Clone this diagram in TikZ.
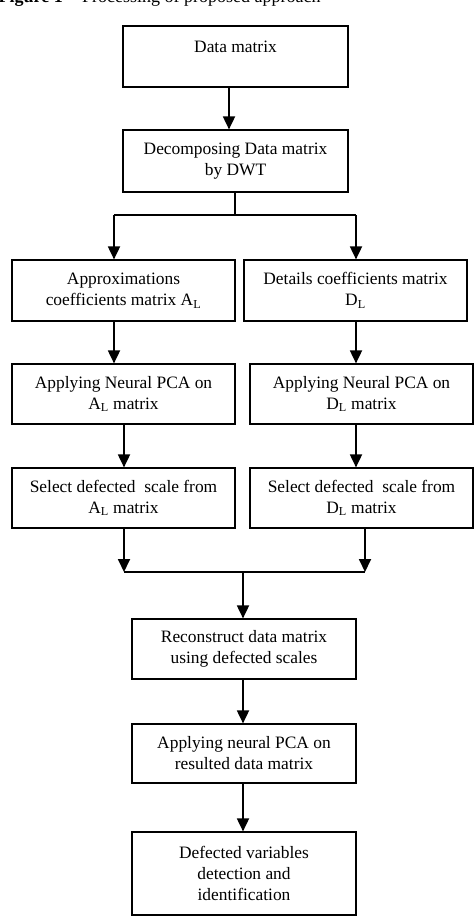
\documentclass[tikz,border=0pt]{standalone}
\usepackage{fontspec}
\setmainfont{Liberation Serif}
\usetikzlibrary{arrows.meta,calc}
\begin{document}
\begin{tikzpicture}[x=1pt,y=-1pt,
  box/.style={draw, line width=1.2pt, inner sep=0pt, align=center,
    font=\fontsize{17.4}{21}\selectfont},
  arr/.style={line width=1.8pt, -{Triangle[length=13pt,width=12pt]}},
  joinline/.style={line width=1.2pt},
  ttl/.style={inner sep=0pt, font=\fontsize{18}{21}\selectfont}]
\useasboundingbox (0,0) rectangle (474,916);
% title (cut off at the top)
\node[ttl, anchor=base east] (fig) at (63,2) {\textbf{Figure 1}};
\node[ttl, anchor=base west] (cap) at (82,2) {Processing of proposed approach};
% boxes
\node[draw, line width=1.2pt, inner sep=0pt, minimum width=225pt,
  text height=26pt, text depth=35pt, font=\fontsize{17.4}{21}\selectfont] (b1) at (235.5,56.5) {Data matrix};
\node[box, minimum width=225pt, minimum height=62pt] (b2) at (235.5,161) {Decomposing Data matrix\\by DWT};
\node[box, minimum width=223pt, minimum height=61pt] (b3l) at (123.5,290.5) {Approximations\\coefficients matrix A\textsubscript{L}};
\node[box, minimum width=223pt, minimum height=61pt] (b3r) at (355.5,290.5) {Details coefficients matrix\\D\textsubscript{L}};
\node[box, minimum width=223pt, minimum height=60pt] (b4l) at (123.5,394) {Applying Neural PCA on\\A\textsubscript{L} matrix};
\node[box, minimum width=223pt, minimum height=60pt] (b4r) at (361.5,394) {Applying Neural PCA on\\D\textsubscript{L} matrix};
\node[box, minimum width=223pt, minimum height=60pt] (b5l) at (123.5,498) {Select defected\ \ scale from\\A\textsubscript{L} matrix};
\node[box, minimum width=223pt, minimum height=60pt] (b5r) at (361.5,498) {Select defected\ \ scale from\\D\textsubscript{L} matrix};
\node[box, minimum width=224pt, minimum height=60pt] (b6) at (244,649) {Reconstruct data matrix\\using defected scales};
\node[box, minimum width=224pt, minimum height=59pt] (b7) at (244,753.5) {Applying neural PCA on\\resulted data matrix};
\node[box, minimum width=224pt, minimum height=83pt] (b8) at (244,873.5) {Defected variables\\detection and\\identification};
% connector helper points
\coordinate (s1) at ($(b1.south)+(-6.5,0)$);
\coordinate (s2) at ($(b2.south)+(-0.5,23)$);
\coordinate (sl) at (114,215);
\coordinate (sr) at (356,215);
\coordinate (jl) at (124,572);
\coordinate (jr) at (365,572);
\coordinate (jm) at (243,572);
% connectors
\draw[arr] (s1) -- (s1 |- b2.north);
\draw[joinline] (b2.south -| s2) -- (s2);
\draw[joinline] (sl) -- (sr);
\draw[arr] (sl) -- (sl |- b3l.north);
\draw[arr] (sr) -- (sr |- b3r.north);
\draw[arr] (b3l.south -| sl) -- (sl |- b4l.north);
\draw[arr] (b3r.south -| sr) -- (sr |- b4r.north);
\draw[arr] (b4l.south -| jl) -- (jl |- b5l.north);
\draw[arr] (b4r.south -| sr) -- (sr |- b5r.north);
\draw[arr] (b5l.south -| jl) -- (jl);
\draw[arr] (b5r.south -| jr) -- (jr);
\draw[joinline] (jl) -- (jr);
\draw[arr] (jm) -- (jm |- b6.north);
\draw[arr] (b6.south -| jm) -- (jm |- b7.north);
\draw[arr] (b7.south -| jm) -- (jm |- b8.north);
\end{tikzpicture}
\end{document}
